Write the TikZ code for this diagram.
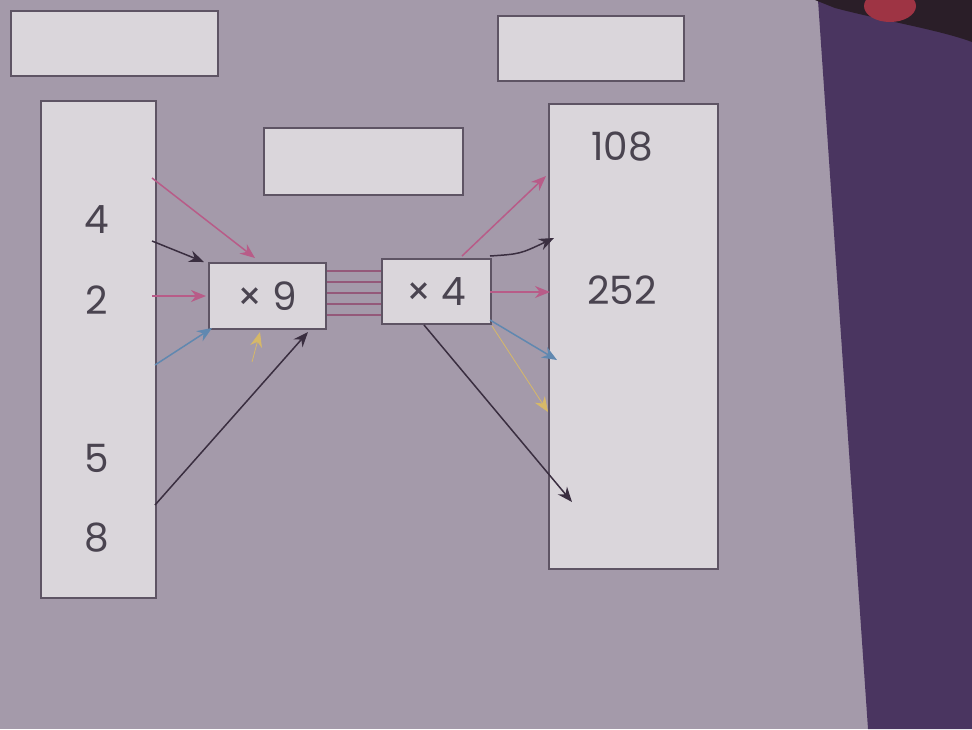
\documentclass[tikz,border=0pt]{standalone}
\usepackage{fontspec}
\setmainfont{Poppins}
\usetikzlibrary{arrows.meta}
\definecolor{paper}{HTML}{A49AAA}
\definecolor{purp}{HTML}{4A3560}
\definecolor{corner}{HTML}{2A1E28}
\definecolor{blob}{HTML}{9E3444}
\definecolor{boxfill}{HTML}{DAD6DB}
\definecolor{boxline}{HTML}{5E5464}
\definecolor{ink}{HTML}{4A4450}
\definecolor{pinkA}{HTML}{B85C88}
\definecolor{darkA}{HTML}{3A2E40}
\definecolor{blueA}{HTML}{6088B0}
\definecolor{yelA}{HTML}{D6B868}
\begin{document}
\begin{tikzpicture}[x=1pt,y=-1pt,
  card/.style={draw=boxline,line width=1.8pt,fill=boxfill,inner sep=0pt,anchor=north west},
  num/.style={text=ink,font=\fontsize{39}{45}\selectfont,inner sep=0pt},
  arr/.style={line width=1.5pt,-{Stealth[length=15pt,width=12pt]}},
  link/.style={line width=1.4pt,draw=pinkA!60!boxline}]
\useasboundingbox (0,0) rectangle (972,729);
\fill[paper] (0,0) rectangle (972,729);
\fill[purp] (818,0) -- (868,729) -- (972,729) -- (972,0) -- cycle;
\fill[corner] (815,0) -- (972,0) -- (972,42) .. controls (940,30) and (880,20) .. (835,8) -- cycle;
\fill[blob] (890,6) ellipse (26 and 16);
% blank boxes
\node[card,minimum width=207pt,minimum height=65pt] (tl) at (10,10) {};
\node[card,minimum width=186pt,minimum height=65pt] (tr) at (497,15) {};
\node[card,minimum width=199pt,minimum height=67pt] (mid) at (263,127) {};
% tall boxes
\node[card,minimum width=115pt,minimum height=497pt] (L) at (40,100) {};
\node[card,minimum width=169pt,minimum height=465pt] (R) at (548,103) {};
% operator boxes
\node[card,minimum width=117pt,minimum height=66pt] (m9) at (208,262) {};
\node[card,minimum width=109pt,minimum height=65pt] (m4) at (381,258) {};
\node[num] at (m9.center) {× 9};
\node[num] at (m4.center) {× 4};
% numbers
\node[num] (n4) at (97,220) {4};
\node[num] (n2) at (97,300) {2};
\node[num] (n5) at (97,458) {5};
\node[num] (n8) at (97,538) {8};
\node[num] (n108) at (622,147) {108};
\node[num] (n252) at (622,290) {252};
% linking lines
\foreach \yy in {271,282,293,304,315}
  \draw[link] (m9.east |- 0,\yy) -- (m4.west |- 0,\yy);
% left arrow coordinates
\coordinate (a1) at (152,178); \coordinate (b1) at (255,258);
\coordinate (a2) at (152,241); \coordinate (b2) at (204,262);
\coordinate (a3) at (152,296); \coordinate (b3) at (206,296);
\coordinate (a4) at (155,365); \coordinate (b4) at (212,328);
\coordinate (a5) at (252,362); \coordinate (b5) at (260,332);
\coordinate (a6) at (155,505); \coordinate (b6) at (308,332);
\draw[arr,pinkA] (a1) -- (b1);
\draw[arr,darkA] (a2) -- (b2);
\draw[arr,pinkA] (a3) -- (b3);
\draw[arr,blueA] (a4) -- (b4);
\draw[arr,yelA,line width=0.8pt] (a5) -- (b5);
\draw[arr,darkA] (a6) -- (b6);
% right arrow coordinates
\coordinate (c1) at (462,256); \coordinate (d1) at (546,176);
\coordinate (c2) at (490,256); \coordinate (d2) at (554,238);
\coordinate (c3) at (490,292); \coordinate (d3) at (550,292);
\coordinate (c4) at (490,320); \coordinate (d4) at (557,360);
\coordinate (c5) at (492,326); \coordinate (d5) at (548,412);
\coordinate (c6) at (424,325); \coordinate (d6) at (572,502);
\draw[arr,pinkA] (c1) -- (d1);
\draw[arr,darkA] (c2) .. controls (520,254) .. (d2);
\draw[arr,pinkA] (c3) -- (d3);
\draw[arr,blueA] (c4) -- (d4);
\draw[arr,yelA,line width=0.8pt] (c5) -- (d5);
\draw[arr,darkA] (c6) -- (d6);
\end{tikzpicture}
\end{document}
